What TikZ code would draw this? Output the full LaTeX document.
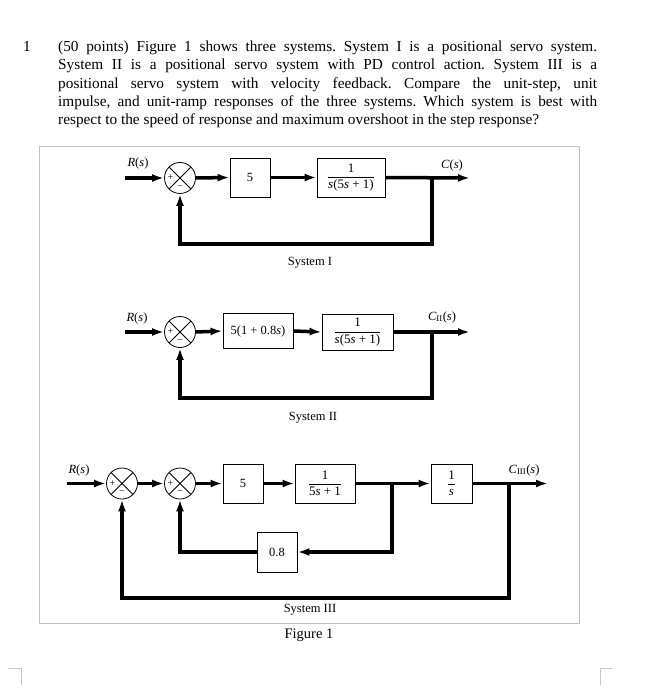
\documentclass[tikz,border=0pt]{standalone}
\usepackage{fontspec}
\setmainfont{Liberation Serif}
\usetikzlibrary{arrows.meta,positioning,calc}
\definecolor{Frame}{HTML}{C0C0C0}
\definecolor{Mark}{HTML}{C8C8C8}
\newcommand\parafont{\fontsize{15.3}{18.3}\selectfont\frenchspacing}
\newcommand\blkfont{\fontsize{12.5}{14}\selectfont}
\newcommand\signfont{\fontsize{10}{11}\selectfont}
\newcommand\tfrac[2]{{\fontsize{13}{15}\selectfont$\displaystyle\frac{\mbox{#1}}{\mbox{#2}}$}}
\tikzset{
  sig/.style={line width=3.5pt},
  sigArrow/.style={sig,-{Latex[length=12pt,width=8pt]}},
  blk/.style={draw,line width=0.8pt,minimum width=40pt,minimum height=39pt,inner sep=2pt,font=\blkfont},
  sumj/.style={circle,draw,line width=0.8pt,minimum size=31pt,inner sep=0pt,
    path picture={
      \draw[line width=0.8pt] (path picture bounding box.north west) -- (path picture bounding box.south east)
        (path picture bounding box.north east) -- (path picture bounding box.south west);
      \node[font=\signfont,inner sep=0pt] at ([xshift=-9.5pt]path picture bounding box.center) {+};
      \node[font=\signfont,inner sep=0pt] at ([yshift=-9.5pt]path picture bounding box.center) {−};
    }},
  lbl/.style={font=\blkfont,inner sep=0pt},
  paraLine/.style={font=\parafont,anchor=base west,inner sep=0pt}
}
\begin{document}
\begin{tikzpicture}[x=1pt,y=-1pt]
\useasboundingbox (0,0) rectangle (651,692);
% question text
\node[paraLine] (num) at (23,51.7) {1};
\node[paraLine] (l1) at (58,51.7) {\makebox[539pt][s]{(50 points) Figure 1 shows three systems. System I is a positional servo system.}};
\node[paraLine] (l2) at (58,70) {\makebox[539pt][s]{System II is a positional servo system with PD control action. System III is a}};
\node[paraLine] (l3) at (58,88.3) {\makebox[539pt][s]{positional servo system with velocity feedback. Compare the unit-step, unit}};
\node[paraLine] (l4) at (58,106.6) {\makebox[539pt][s]{impulse, and unit-ramp responses of the three systems. Which system is best with}};
\node[paraLine] (l5) at (58,124.9) {respect to the speed of response and maximum overshoot in the step response?};
% frame and page marks
\draw[Frame,line width=1pt] (39,147) rectangle (579,623);
\draw[Mark,line width=1pt] (8,668) -- (21,668) -- (21,685);
\draw[Mark,line width=1pt] (612,668) -- (600,668) -- (600,685);
\node[font=\fontsize{14.5}{16}\selectfont] (fig) at (309,635) {Figure 1};

% System I
\coordinate (in1) at (125,178);
\node[sumj] (s1) at (180,178) {};
\node[blk] (b1) at (250,177.5) {5};
\node[blk,minimum width=68pt] (b2) at (351,177.5) {\tfrac{1}{\textit{s}(5\textit{s} + 1)}};
\coordinate (out1) at (470,178);
\coordinate (br1) at (432,178);
\coordinate (fb1) at (432,244);
\node[lbl] (r1) at (138,163) {\textit{R}(\textit{s})};
\node[lbl] (c1) at (452,165) {\textit{C}(\textit{s})};
\node[lbl] (t1) at (310,263) {System I};
\draw[sigArrow] (in1) -- (s1.west);
\draw[sigArrow] (s1.east) -- (b1.west);
\draw[sigArrow] (b1.east) -- (b2.west);
\draw[sigArrow] (b2.east) -- (out1);
\draw[sigArrow] (br1) -- (fb1) -| (s1.south);

% System II
\coordinate (in2) at (125,332);
\node[sumj] (s2) at (180,332) {};
\node[blk,minimum width=70pt,minimum height=35pt] (b3) at (258,331) {5(1 + 0.8\textit{s})};
\node[blk,minimum width=71pt,minimum height=36pt] (b4) at (357.5,332) {\tfrac{1}{\textit{s}(5\textit{s} + 1)}};
\coordinate (out2) at (470,332);
\coordinate (br2) at (432,332);
\coordinate (fb2) at (432,398);
\node[lbl] (r2) at (137,318) {\textit{R}(\textit{s})};
\node[lbl] (c2) at (442,317) {\textit{C}\textsubscript{II}(\textit{s})};
\node[lbl] (t2) at (313,418) {System II};
\draw[sigArrow] (in2) -- (s2.west);
\draw[sigArrow] (s2.east) -- (b3.west);
\draw[sigArrow] (b3.east) -- (b4.west);
\draw[sigArrow] (b4.east) -- (out2);
\draw[sigArrow] (br2) -- (fb2) -| (s2.south);

% System III
\coordinate (in3) at (67,483.5);
\node[sumj] (s3a) at (122,483.5) {};
\node[sumj] (s3b) at (180,483.5) {};
\node[blk] (b5) at (243,483.5) {5};
\node[blk,minimum width=60pt] (b6) at (325,483.5) {\tfrac{1}{5\textit{s} + 1}};
\node[blk,minimum width=41pt] (b7) at (451.5,483.5) {\tfrac{1}{\textit{s}}};
\node[blk,minimum height=40pt] (b8) at (277,552) {0.8};
\coordinate (out3) at (548,483.5);
\coordinate (br3a) at (392,483.5);
\coordinate (fb3a) at (392,552);
\coordinate (br3b) at (509,483.5);
\coordinate (fb3b) at (509,598);
\node[lbl] (r3) at (79,470) {\textit{R}(\textit{s})};
\node[lbl] (c3) at (524,470) {\textit{C}\textsubscript{III}(\textit{s})};
\node[lbl] (t3) at (310,610) {System III};
\draw[sigArrow] (in3) -- (s3a.west);
\draw[sigArrow] (s3a.east) -- (s3b.west);
\draw[sigArrow] (s3b.east) -- (b5.west);
\draw[sigArrow] (b5.east) -- (b6.west);
\draw[sigArrow] (b6.east) -- (b7.west);
\draw[sigArrow] (b7.east) -- (out3);
\draw[sigArrow] (br3a) -- (fb3a) -- (b8.east);
\draw[sigArrow] (b8.west) -| (s3b.south);
\draw[sigArrow] (br3b) -- (fb3b) -| (s3a.south);
\end{tikzpicture}
\end{document}
